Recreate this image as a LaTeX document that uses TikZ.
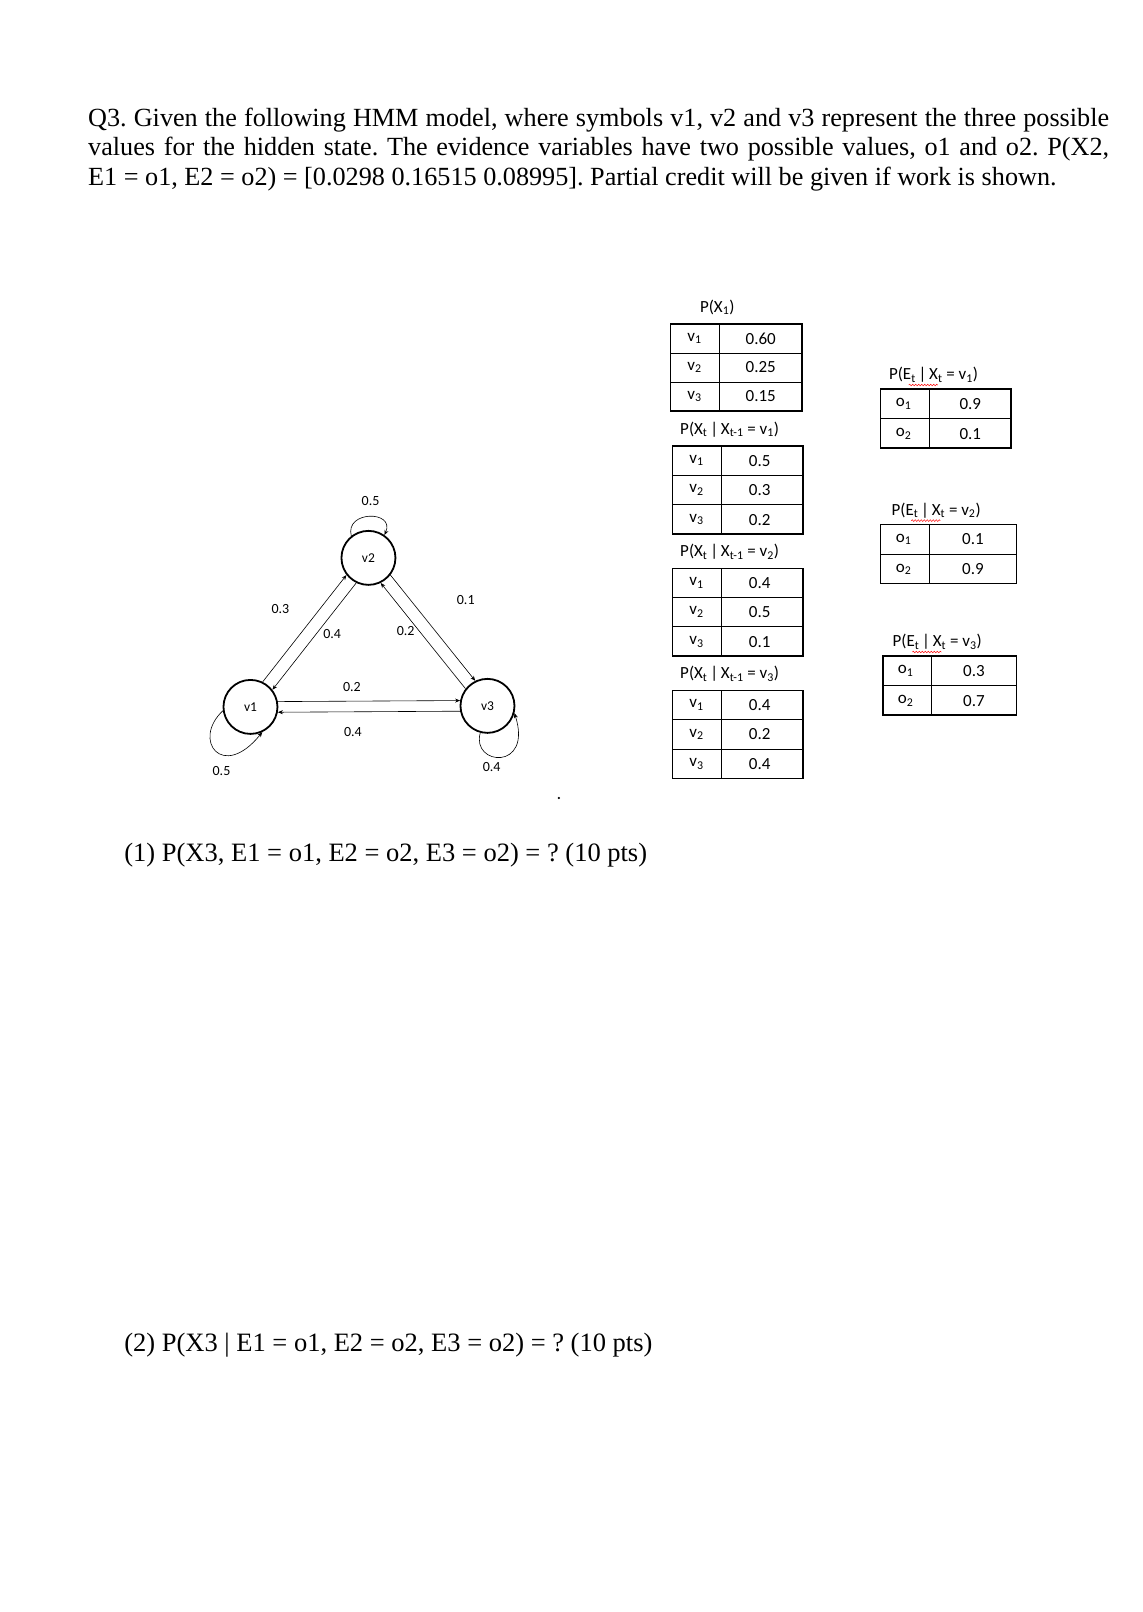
\documentclass[tikz,border=0pt]{standalone}
\usepackage{fontspec}
\setmainfont{Liberation Serif}
\newfontfamily\calfont{Carlito}
\usetikzlibrary{arrows.meta,decorations.pathmorphing}
\tikzset{
 st/.style={circle,draw,line width=1.8pt,minimum size=54pt,inner sep=0pt,font=\calfont\fontsize{13.5}{13.5}\selectfont},
 tr/.style={-{Stealth[length=5pt,width=4pt]},line width=0.6pt},
 lb/.style={font=\calfont\fontsize{14}{14}\selectfont},
 tx/.style={font=\calfont\fontsize{17}{17}\selectfont},
 tb/.style={line width=1.4pt},
}
\newcommand\sub[1]{\textsubscript{#1}}
\frenchspacing
\begin{document}
\begin{tikzpicture}[x=1.035pt,y=-1.035pt]
\useasboundingbox (0,0) rectangle (1103.4,1557.5);
\fill[white] (0,0) rectangle (1103.4,1557.5);
\node[anchor=north west,inner sep=0pt,font=\fontsize{26.2}{29.6}\selectfont] (q) at (85,104) {\parbox{1021pt}{\frenchspacing\parindent=0pt Q3. Given the following HMM model, where symbols v1, v2 and v3 represent the three possible\linebreak values for the hidden state. The evidence variables have two possible values, o1 and o2. P(X2,\linebreak E1 = o1, E2 = o2) = [0.0298 0.16515 0.08995]. Partial credit will be given if work is shown.}};
% graph
\node[st] (v1) at (242,683) {v1};
\node[st] (v2) at (356,539) {v2};
\node[st] (v3) at (471,682) {v3};
\draw[tr] (v1.64) -- (v2.218);
\draw[tr] (v2.244) -- (v1.38);
\draw[tr] (v2.322) -- (v3.116);
\draw[tr] (v3.142) -- (v2.296);
\draw[tr] (v1.11) -- (v3.169);
\draw[tr] (v3.191) -- (v1.349);
\draw[tr] (v1.188) .. controls (185,715) and (215,755) .. (v1.295);
\draw[tr] (v2.128) .. controls (333,493) and (382,493) .. (v2.55);
\draw[tr] (v3.255) .. controls (455,740) and (515,745) .. (v3.345);
\node[lb] (l1) at (358,484) {0.5};
\node[lb] (l2) at (271,588) {0.3};
\node[lb] (l3) at (321,613) {0.4};
\node[lb] (l4) at (392,610) {0.2};
\node[lb] (l5) at (450,580) {0.1};
\node[lb] (l6) at (340,664) {0.2};
\node[lb] (l7) at (341,707) {0.4};
\node[lb] (l8) at (214,745) {0.5};
\node[lb] (l9) at (475,741) {0.4};
\fill (540,771) circle (1.2pt);
% transition tables
\node[tx] (t1) at (693,297) {P(X\sub{1})};
\draw[tb] (648,313) rectangle (775,397); \draw[line width=0.8pt] (695,313)--(695,397) (648,341)--(775,341) (648,369)--(775,369);
\node[tx] at (671,327) {v\sub{1}}; \node[tx] at (735,327) {0.60};
\node[tx] at (671,355) {v\sub{2}}; \node[tx] at (735,355) {0.25};
\node[tx] at (671,383) {v\sub{3}}; \node[tx] at (735,383) {0.15};
\foreach \tt/\vv/\a/\b/\c in {431/1/0.5/0.3/0.2, 549/2/0.4/0.5/0.1, 667/3/0.4/0.2/0.4}{
 \node[tx] at (705,\tt-16) {P(X\sub{t}\,|\,X\sub{t-1} = v\sub{\vv})};
 \draw[tb] (650,\tt) rectangle (776,\tt+85); \draw[line width=0.8pt] (697,\tt)--(697,\tt+85) (650,\tt+28.3)--(776,\tt+28.3) (650,\tt+56.6)--(776,\tt+56.6);
 \node[tx] at (673,\tt+14) {v\sub{1}}; \node[tx] at (734,\tt+14) {\a};
 \node[tx] at (673,\tt+42.5) {v\sub{2}}; \node[tx] at (734,\tt+42.5) {\b};
 \node[tx] at (673,\tt+71) {v\sub{3}}; \node[tx] at (734,\tt+71) {\c};
}
% emission tables
\foreach \tt/\vv/\a/\b/\xl/\xr in {376/1/0.9/0.1/851/977, 507/2/0.1/0.9/851/982, 634/3/0.3/0.7/853/982}{
 \node[tx] at ({(\xl+\xr)/2-12},\tt-14) {P(E\sub{t}\,|\,X\sub{t} = v\sub{\vv})};
 \draw[red,line width=0.5pt,decorate,decoration={snake,amplitude=0.8pt,segment length=3pt}] ({(\xl+\xr)/2-36},\tt-4) -- ({(\xl+\xr)/2-8},\tt-4);
 \draw[tb] (\xl,\tt) rectangle (\xr,\tt+57); \draw[line width=0.8pt] (\xl+47,\tt)--(\xl+47,\tt+57) (\xl,\tt+28.5)--(\xr,\tt+28.5);
 \node[tx] at (\xl+22,\tt+14) {o\sub{1}}; \node[tx] at ({(\xl+47+\xr)/2},\tt+14) {\a};
 \node[tx] at (\xl+22,\tt+43) {o\sub{2}}; \node[tx] at ({(\xl+47+\xr)/2},\tt+43) {\b};
}
\node[anchor=west,inner sep=0pt,font=\fontsize{26.5}{29}\selectfont] (p1) at (120,826) {(1) P(X3, E1 = o1, E2 = o2, E3 = o2) = ? (10 pts)};
\node[anchor=west,inner sep=0pt,font=\fontsize{26.5}{29}\selectfont] (p2) at (120,1300) {(2) P(X3 | E1 = o1, E2 = o2, E3 = o2) = ? (10 pts)};
\end{tikzpicture}
\end{document}
